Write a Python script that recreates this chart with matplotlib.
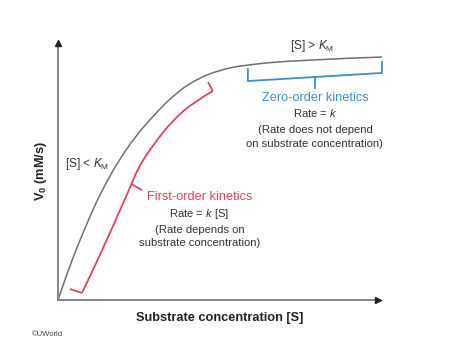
import matplotlib

matplotlib.use("Agg")
import matplotlib.pyplot as plt
from matplotlib.patches import PathPatch
from matplotlib.path import Path

plt.rcParams["font.family"] = ["Liberation Sans", "DejaVu Sans"]
plt.rcParams["mathtext.fontset"] = "custom"
plt.rcParams["mathtext.rm"] = "Liberation Sans"
plt.rcParams["mathtext.it"] = "Liberation Sans:italic"
plt.rcParams["mathtext.bf"] = "Liberation Sans:bold"

# Michaelis-Menten style saturation curve (substrate vs initial velocity)
substrate = [0.0, 0.28, 0.59, 0.90, 1.17, 1.48, 1.85, 2.35, 2.96, 3.67,
             4.35, 5.00, 5.71, 7.47, 10.0]
velocity = [0.0, 1.03, 2.03, 2.95, 3.72, 4.48, 5.29, 6.21, 7.09, 7.97,
            8.51, 8.81, 9.00, 9.20, 9.31]

# first-order bracket, drawn below/right of the rising part of the curve
first_x = [0.74, 1.08, 1.39, 1.67, 1.94, 2.19, 2.47, 2.93, 3.55, 4.20, 4.78]
first_y = [0.27, 1.15, 1.99, 2.76, 3.52, 4.21, 5.06, 5.94, 6.90, 7.59, 8.01]
first_end_x = [[0.37, 0.74], [4.78, 4.63], [2.27, 2.59]]
first_end_y = [[0.42, 0.27], [8.01, 8.35], [4.44, 4.21]]

# zero-order bracket under the plateau
zero_x = [5.86, 5.86, 10.0, 10.0]
zero_y = [8.85, 8.39, 8.70, 9.12]
zero_tick_x = [7.93, 7.93]
zero_tick_y = [8.54, 8.12]

RED = "#e2435a"
BLUE = "#3d8ecb"
TXT = "#333333"
AXIS = "#858585"


def smooth_path(xs, ys):
    """Quadratic Bezier chain using the points as control points."""
    pts = list(zip(xs, ys))
    verts = [pts[0]]
    codes = [Path.MOVETO]
    for i in range(1, len(pts) - 1):
        nxt = pts[i + 1]
        end = nxt if i == len(pts) - 2 else (
            (pts[i][0] + nxt[0]) / 2, (pts[i][1] + nxt[1]) / 2)
        verts += [pts[i], end]
        codes += [Path.CURVE3, Path.CURVE3]
    return Path(verts, codes)


fig = plt.figure(figsize=(4.74, 3.45), dpi=100)
ax = fig.add_axes([0.1224, 0.1304, 0.6835, 0.7565])
ax.set_xlim(0, 10)
ax.set_ylim(0, 10)
ax.axis("off")

# axes with arrow heads
ax.plot([0, 0], [0, 9.8], color=AXIS, lw=1.4, clip_on=False)
ax.plot([0, 9.85], [0, 0], color=AXIS, lw=1.4, clip_on=False)
ax.plot(0, 9.85, marker="^", ms=4.5, color="#222222", clip_on=False)
ax.plot(9.88, 0, marker=">", ms=4.5, color="#222222", clip_on=False)

ax.add_patch(PathPatch(smooth_path(substrate, velocity), fc="none",
                       ec="#707070", lw=1.1, clip_on=False))

ax.add_patch(PathPatch(smooth_path(first_x, first_y), fc="none",
                       ec=RED, lw=1.3, clip_on=False))
for xs, ys in zip(first_end_x, first_end_y):
    ax.plot(xs, ys, color=RED, lw=1.3, clip_on=False,
            solid_capstyle="butt")
ax.plot(zero_x, zero_y, color=BLUE, lw=1.3, clip_on=False)
ax.plot(zero_tick_x, zero_tick_y, color=BLUE, lw=1.3, clip_on=False)

body = dict(ha="center", va="center", color=TXT, fontsize=8.1)
ax.text(7.84, 9.73, r"[S] > $K_{\mathrm{M}}$", ha="center", va="center",
        color=TXT, fontsize=8.6)
ax.text(7.93, 7.74, "Zero-order kinetics", ha="center", va="center",
        color=BLUE, fontsize=9.2)
ax.text(7.93, 7.16, r"Rate = $k$", **body)
ax.text(7.93, 6.51, "(Rate does not depend", **body)
ax.text(7.93, 5.98, "on substrate concentration)", **body)

ax.text(0.22, 5.21, r"[S] < $K_{\mathrm{M}}$", ha="left", va="center",
        color=TXT, fontsize=8.6)
ax.text(4.37, 3.95, "First-order kinetics", ha="center", va="center",
        color=RED, fontsize=9.2)
ax.text(4.37, 3.31, r"Rate = $k$ [S]", **body)
ax.text(4.37, 2.68, "(Rate depends on", **body)
ax.text(4.37, 2.18, "substrate concentration)", **body)

fig.text(220 / 474, 1 - 318 / 345, "Substrate concentration [S]",
         ha="center", va="center", fontsize=9.2, fontweight="bold",
         color="#222222")
fig.text(41 / 474, 1 - 171 / 345, r"$\mathbf{V_0}$ (mM/s)", rotation=90,
         ha="center", va="center", fontsize=9.2, fontweight="bold",
         color="#222222")
fig.text(32 / 474, 1 - 335 / 345, "\u00a9UWorld", ha="left", va="center",
         fontsize=5.5, color="#444444")

fig.savefig("out.png", dpi=100)
